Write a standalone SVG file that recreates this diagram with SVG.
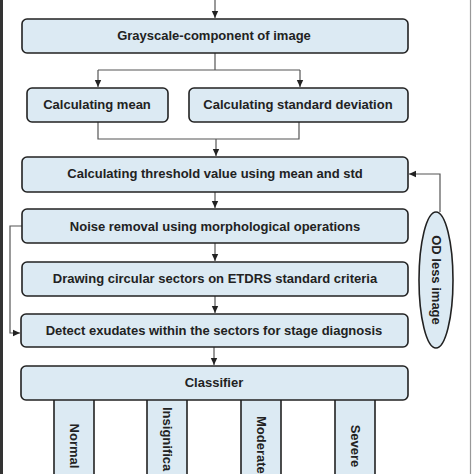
<svg xmlns="http://www.w3.org/2000/svg" width="474" height="474" viewBox="0 0 474 474">
<style>
.box{fill:#dceaf3;stroke:#222;stroke-width:1.6}
.t{font-family:"Liberation Sans",Arial,sans-serif;font-weight:bold;font-size:13px;fill:#222;text-anchor:middle;dominant-baseline:central}
.ln{fill:none;stroke:#555;stroke-width:1.2}
</style>
<defs>
<marker id="ah" markerWidth="8" markerHeight="8" refX="7" refY="4" orient="auto" markerUnits="userSpaceOnUse">
<path d="M0,0.8 L7,4 L0,7.2 Z" fill="#222"/>
</marker>
</defs>
<rect x="0" y="0" width="474" height="474" fill="#fff"/>
<line x1="1.5" y1="0" x2="1.5" y2="474" stroke="#333" stroke-width="3"/>
<line x1="470.5" y1="0" x2="470.5" y2="474" stroke="#999" stroke-width="1.2"/>

<g id="connectors">
<path class="ln" d="M215,0 V18" marker-end="url(#ah)"/>
<path class="ln" d="M215,53 V70 H98 M215,70 H300"/>
<path class="ln" d="M98,70 V87" marker-end="url(#ah)"/>
<path class="ln" d="M300,70 V87" marker-end="url(#ah)"/>
<path class="ln" d="M98,122 V139 H299 V122"/>
<path class="ln" d="M216,139 V156" marker-end="url(#ah)"/>
<path class="ln" d="M215,192 V208" marker-end="url(#ah)"/>
<path class="ln" d="M215,243 V261" marker-end="url(#ah)"/>
<path class="ln" d="M215,296 V313" marker-end="url(#ah)"/>
<path class="ln" d="M214,347 V365" marker-end="url(#ah)"/>
<path class="ln" d="M22,226 H10 V333 H20" marker-end="url(#ah)"/>
<path class="ln" d="M440,212 V174 H409" marker-end="url(#ah)"/>
</g>

<g id="n-gray"><rect class="box" x="22" y="19" width="386" height="34" rx="5"/><text class="t" x="214" y="35">Grayscale-component of image</text></g>
<g id="n-mean"><rect class="box" x="27" y="88" width="141" height="34" rx="5"/><text class="t" x="97" y="104">Calculating mean</text></g>
<g id="n-std"><rect class="box" x="189" y="88" width="219" height="34" rx="5"/><text class="t" x="298" y="104">Calculating standard deviation</text></g>
<g id="n-thresh"><rect class="box" x="22" y="157" width="386" height="35" rx="5"/><text class="t" x="215" y="173">Calculating threshold value using mean and std</text></g>
<g id="n-noise"><rect class="box" x="22" y="209" width="386" height="34" rx="5"/><text class="t" x="215" y="226">Noise removal using morphological operations</text></g>
<g id="n-draw"><rect class="box" x="22" y="262" width="386" height="34" rx="5"/><text class="t" x="215" y="278">Drawing circular sectors on ETDRS standard criteria</text></g>
<g id="n-detect"><rect class="box" x="21" y="314" width="387" height="33" rx="5"/><text class="t" x="214" y="330">Detect exudates within the sectors for stage diagnosis</text></g>
<g id="n-od"><ellipse class="box" cx="436" cy="280" rx="17" ry="68"/><text class="t" transform="rotate(90 436 280)" x="436" y="280">OD less image</text></g>

<g id="n-normal"><rect x="54" y="400" width="40" height="80" fill="#dceaf3"/><path d="M54,400 V474 M94,400 V474" stroke="#222" stroke-width="1.6"/><text class="t" transform="rotate(90 74 446)" x="74" y="446">Normal</text></g>
<g id="n-insig"><rect x="147" y="400" width="40" height="80" fill="#dceaf3"/><path d="M147,400 V474 M187,400 V474" stroke="#222" stroke-width="1.6"/><text class="t" style="text-anchor:start" transform="rotate(90 167 407)" x="167" y="407">Insignifica</text></g>
<g id="n-moderate"><rect x="241" y="400" width="40" height="80" fill="#dceaf3"/><path d="M241,400 V474 M281,400 V474" stroke="#222" stroke-width="1.6"/><text class="t" style="text-anchor:start" transform="rotate(90 261 416)" x="261" y="416">Moderate</text></g>
<g id="n-severe"><rect x="335" y="400" width="40" height="80" fill="#dceaf3"/><path d="M335,400 V474 M375,400 V474" stroke="#222" stroke-width="1.6"/><text class="t" transform="rotate(90 355 446)" x="355" y="446">Severe</text></g>
<g id="n-class"><rect class="box" x="21" y="366" width="387" height="34" rx="5"/><text class="t" x="214" y="382">Classifier</text></g>
</svg>
